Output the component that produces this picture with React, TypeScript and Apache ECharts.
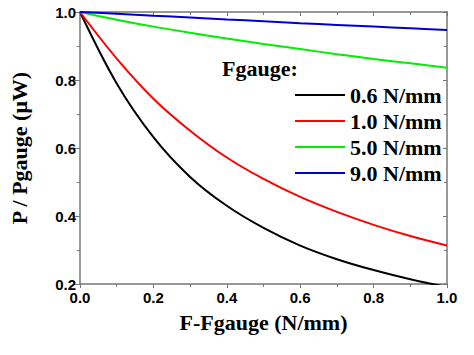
import React, { useEffect, useRef } from "react";
import * as echarts from "echarts";

const xValues = [0, 0.1, 0.2, 0.3, 0.4, 0.5, 0.6, 0.7, 0.8, 0.9, 1.0];
const seriesNames = ["0.6 N/mm", "1.0 N/mm", "5.0 N/mm", "9.0 N/mm"];
const black06 = [1.0, 0.79, 0.632, 0.515, 0.43, 0.365, 0.313, 0.273, 0.241, 0.214, 0.191];
const red10 = [1.0, 0.863, 0.745, 0.651, 0.572, 0.509, 0.456, 0.412, 0.374, 0.341, 0.313];
const green50 = [1.0, 0.977, 0.957, 0.939, 0.922, 0.906, 0.891, 0.876, 0.862, 0.849, 0.836];
const blue90 = [1.0, 0.995, 0.989, 0.984, 0.978, 0.973, 0.967, 0.962, 0.957, 0.952, 0.947];
const colors = ["#000000", "#ff0000", "#00ee00", "#0000cc"];

const serif = "Liberation Serif";
const sans = "Liberation Sans";
const axisColor = "#777777";

export default function App() {
  const ref = useRef<HTMLDivElement>(null);
  useEffect(() => {
    if (!ref.current) return;
    const chart = echarts.init(ref.current, undefined, { renderer: "svg" });
    const allData = [black06, red10, green50, blue90];
    const axisCommon = {
      type: "value" as const,
      min: 0,
      max: 1,
      interval: 0.2,
      splitLine: { show: false },
      axisLine: { show: true, onZero: false, lineStyle: { color: axisColor, width: 1.5 } },
    };
    const yCommon = { ...axisCommon, min: 0.2, max: 1.0, interval: 0.2 };
    chart.setOption({
      animation: false,
      backgroundColor: "#ffffff",
      title: {
        text: "Fgauge:",
        left: 222,
        top: 57,
        textStyle: { fontFamily: serif, fontWeight: "bold", fontSize: 22, color: "#000" },
        padding: 0,
      },
      legend: {
        orient: "vertical",
        left: 295,
        top: 84,
        padding: 0,
        icon: "rect",
        itemWidth: 50,
        itemHeight: 2,
        itemGap: 4,
        data: seriesNames,
        textStyle: { fontFamily: serif, fontWeight: "bold", fontSize: 22, color: "#000" },
      },
      grid: { left: 77, right: 27, top: 12, bottom: 71 },
      xAxis: [
        {
          ...axisCommon,
          position: "bottom",
          name: "F-Fgauge (N/mm)",
          nameLocation: "middle",
          nameGap: 27,
          nameTextStyle: { fontFamily: serif, fontWeight: "bold", fontSize: 22, color: "#000" },
          axisTick: { show: true, inside: false, length: 4, lineStyle: { color: axisColor } },
          minorTick: { show: true, splitNumber: 2, length: 3, lineStyle: { color: axisColor } },
          axisLabel: {
            fontFamily: sans,
            fontWeight: "bold",
            fontSize: 15,
            color: "#000",
            margin: 6,
            formatter: (v: number) => v.toFixed(1),
          },
        },
        {
          ...axisCommon,
          position: "top",
          axisTick: { show: true, inside: true, length: 4, lineStyle: { color: axisColor } },
          minorTick: { show: true, splitNumber: 2, length: 3, lineStyle: { color: axisColor } },
          axisLabel: { show: false },
        },
      ],
      yAxis: [
        {
          ...yCommon,
          position: "left",
          name: "P / Pgauge (\u03bcW)",
          nameLocation: "middle",
          nameGap: 50,
          nameRotate: 90,
          nameTextStyle: { fontFamily: serif, fontWeight: "bold", fontSize: 22, color: "#000" },
          axisTick: { show: true, inside: false, length: 6, lineStyle: { color: axisColor } },
          minorTick: { show: true, splitNumber: 2, length: 3, lineStyle: { color: axisColor } },
          axisLabel: {
            fontFamily: sans,
            fontWeight: "bold",
            fontSize: 15,
            color: "#000",
            margin: 4,
            formatter: (v: number) => v.toFixed(1),
          },
        },
        {
          ...yCommon,
          position: "right",
          axisTick: { show: true, inside: true, length: 4, lineStyle: { color: axisColor } },
          minorTick: { show: true, splitNumber: 2, length: 3, lineStyle: { color: axisColor } },
          axisLabel: { show: false },
        },
      ],
      series: seriesNames.map((name, i) => ({
        name,
        type: "line",
        xAxisIndex: 0,
        yAxisIndex: 0,
        smooth: 0.35,
        symbol: "none",
        clip: true,
        color: colors[i],
        lineStyle: { color: colors[i], width: 2 },
        data: xValues.map((x, j) => [x, allData[i][j]]),
      })),
    });
    return () => chart.dispose();
  }, []);
  return <div ref={ref} style={{ width: 474, height: 355, margin: -8 }} />;
}
